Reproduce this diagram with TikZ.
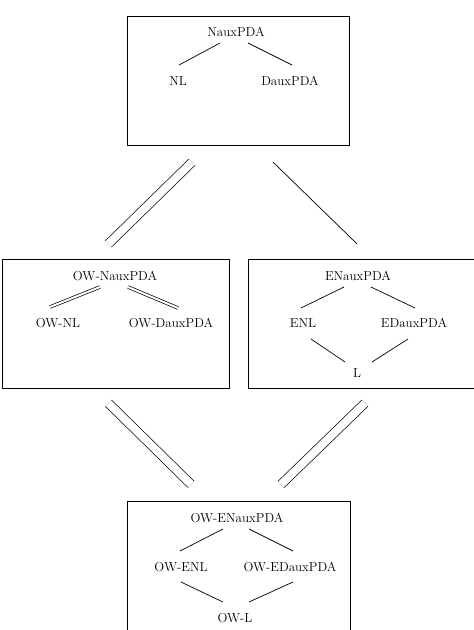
\documentclass[tikz,border=0pt]{standalone}
\usepackage{tikz}
\usetikzlibrary{positioning}

\begin{document}
\begin{tikzpicture}[x=1pt, y=-1pt]
\tikzstyle{panel} = [rectangle, draw, line width=1pt, inner sep=0pt]
\tikzstyle{lang} = [inner sep=0pt, font=\fontsize{13}{15}\selectfont]
\tikzstyle{branch} = [-, line width=0.7pt]
\tikzstyle{twin} = [-, line width=0.7pt, double, double distance=2pt]
\tikzstyle{bridge} = [-, line width=0.7pt, double, double distance=8pt]

\useasboundingbox (0,0) rectangle (474,630);
\clip (0,0) rectangle (474,630);

% boxes
\node (top) [panel, minimum width=222pt, minimum height=129pt] at (238,80.5) {};
\node (owbox) [panel, minimum width=227pt, minimum height=129pt] at (115.5,323.5) {};
\node (enbox) [panel, minimum width=232pt, minimum height=129pt] at (364,323.5) {};
\node (owenbox) [panel, minimum width=223pt, minimum height=159pt] at (238.5,580.5) {};

% top box
\node (naux) [lang] at (236,32) {NauxPDA};
\node (nl) [lang] at (178,81) {NL};
\node (daux) [lang] at (290,81) {DauxPDA};
\draw[branch] ([shift={(-16,11)}]naux.center) -- ([shift={(1,-16)}]nl.center);
\draw[branch] ([shift={(12,11)}]naux.center) -- ([shift={(2,-16)}]daux.center);

% left box
\node (ownaux) [lang] at (115,276) {OW-NauxPDA};
\node (ownl) [lang] at (58,323) {OW-NL};
\node (owdaux) [lang] at (171,323) {OW-DauxPDA};
\draw[twin] ([shift={(-15,11)}]ownaux.center) -- ([shift={(-8,-16)}]ownl.center);
\draw[twin] ([shift={(13,11)}]ownaux.center) -- ([shift={(7,-15)}]owdaux.center);

% right box
\node (enaux) [lang] at (358,276) {ENauxPDA};
\node (enl) [lang] at (303,323) {ENL};
\node (edaux) [lang] at (414,323) {EDauxPDA};
\node (el) [lang] at (357,373) {L};
\draw[branch] ([shift={(-14,11)}]enaux.center) -- ([shift={(-2,-15)}]enl.center);
\draw[branch] ([shift={(13,11)}]enaux.center) -- ([shift={(1,-15)}]edaux.center);
\draw[branch] ([shift={(8,16)}]enl.center) -- ([shift={(-12,-11)}]el.center);
\draw[branch] ([shift={(-6,16)}]edaux.center) -- ([shift={(15,-11)}]el.center);

% bottom box
\node (owen) [lang] at (237,518) {OW-ENauxPDA};
\node (owenl) [lang] at (181,567) {OW-ENL};
\node (owedaux) [lang] at (290,567) {OW-EDauxPDA};
\node (owl) [lang] at (235,618) {OW-L};
\draw[branch] ([shift={(-14,11)}]owen.center) -- ([shift={(-1,-16)}]owenl.center);
\draw[branch] ([shift={(12,11)}]owen.center) -- ([shift={(3,-16)}]owedaux.center);
\draw[branch] ([shift={(0,15)}]owenl.center) -- ([shift={(-12,-16)}]owl.center);
\draw[branch] ([shift={(3,15)}]owedaux.center) -- ([shift={(14,-16)}]owl.center);

% between boxes
\draw[bridge, shorten <=24pt, shorten >=21pt] ([xshift=-29pt]top.south) -- ([xshift=-22pt]owbox.north);
\draw[branch, shorten <=24pt, shorten >=21pt] ([xshift=18pt]top.south) -- ([xshift=8pt]enbox.north);
\draw[bridge, shorten <=21pt, shorten >=23pt] ([xshift=-22pt]owbox.south) -- ([xshift=-31pt]owenbox.north);
\draw[bridge, shorten <=21pt, shorten >=23pt] ([xshift=16pt]enbox.south) -- ([xshift=26pt]owenbox.north);

\end{tikzpicture}
\end{document}
